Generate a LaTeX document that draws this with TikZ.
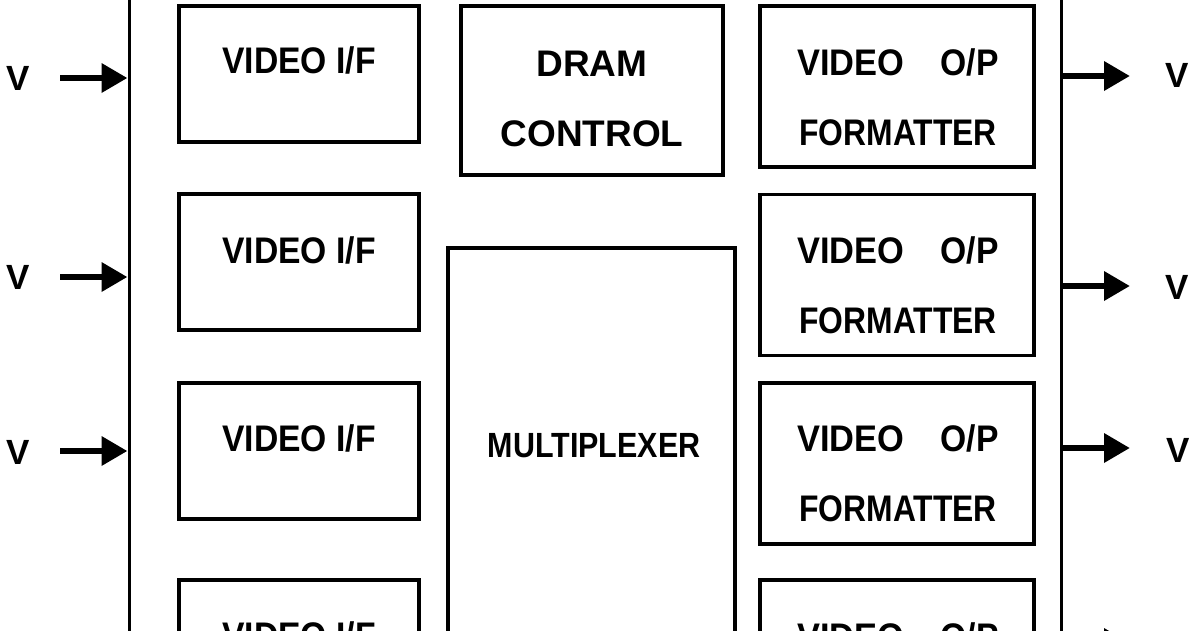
\documentclass[tikz,border=0pt]{standalone}
\usepackage{fontspec}
\usepackage{graphicx}
\setmainfont{Liberation Sans}
\usetikzlibrary{arrows.meta}
\newcommand{\hs}[2]{\scalebox{#1}[1]{#2}}
\begin{document}
\begin{tikzpicture}[x=1pt,y=-1pt,
  blk/.style={draw, line width=3.5pt, inner sep=0pt},
  vifbox/.style={blk, minimum width=240pt, minimum height=136pt},
  vopbox/.style={blk, minimum width=274pt, minimum height=161pt},
  lbl/.style={inner sep=0pt, anchor=base, font=\bfseries\fontsize{37}{40}\selectfont},
  vlbl/.style={inner sep=0pt, anchor=center, font=\bfseries\fontsize{35}{40}\selectfont},
  sig/.style={line width=6.5pt, -{Triangle[length=26pt,width=28pt]}}
]
\useasboundingbox (0,0) rectangle (1200,630);
\clip (0,0) rectangle (1200,630);
\fill[white] (0,0) rectangle (1200,630);

% outer chip outline
\node[draw, line width=3pt, inner sep=0pt, minimum width=932pt, minimum height=800pt] (chip) at (595,350) {};

% video input interfaces
\node[vifbox] (vif1) at (299,74) {};
\node[vifbox] (vif2) at (299,262) {};
\node[vifbox] (vif3) at (299,451) {};
\node[vifbox] (vif4) at (299,648) {};
\node[lbl] (vif1t) at (299,73) {\hs{0.91}{VIDEO I/F}};
\node[lbl] (vif2t) at (299,263) {\hs{0.91}{VIDEO I/F}};
\node[lbl] (vif3t) at (299,451) {\hs{0.91}{VIDEO I/F}};
\node[lbl] (vif4t) at (299,648) {\hs{0.91}{VIDEO I/F}};

% DRAM control
\node[blk, minimum width=262pt, minimum height=169pt] (dram) at (592,90.5) {};
\node[lbl] (dramt1) at (592,76) {DRAM};
\node[lbl] (dramt2) at (592,146) {CONTROL};

% multiplexer
\node[blk, minimum width=287pt, minimum height=560pt] (mux) at (591.5,528) {};
\node[lbl, font=\bfseries\fontsize{35}{40}\selectfont] (muxt) at (594,457.5) {\hs{0.87}{MULTIPLEXER}};

% video output formatters
\node[vopbox] (vop1) at (897,86.5) {};
\node[vopbox] (vop2) at (897,275) {};
\node[vopbox] (vop3) at (897,463.5) {};
\node[vopbox] (vop4) at (897,660.5) {};
\node[lbl] (vop1a) at (898,75) {\hs{0.93}{VIDEO}\hspace{36pt}\hs{0.91}{O/P}};
\node[lbl] (vop1b) at (898,145) {\hs{0.86}{FORMATTER}};
\node[lbl] (vop2a) at (898,263) {\hs{0.93}{VIDEO}\hspace{36pt}\hs{0.91}{O/P}};
\node[lbl] (vop2b) at (898,333) {\hs{0.86}{FORMATTER}};
\node[lbl] (vop3a) at (898,451) {\hs{0.93}{VIDEO}\hspace{36pt}\hs{0.91}{O/P}};
\node[lbl] (vop3b) at (898,521) {\hs{0.86}{FORMATTER}};
\node[lbl] (vop4a) at (898,649) {\hs{0.93}{VIDEO}\hspace{36pt}\hs{0.91}{O/P}};

% inputs
\node[vlbl] (vin1) at (18,78) {V};
\node[vlbl] (vin2) at (18,277) {V};
\node[vlbl] (vin3) at (18,452) {V};
\coordinate (in1) at (60,78);
\coordinate (in2) at (60,277);
\coordinate (in3) at (60,451);
\draw[sig] (in1) -- (in1 -| chip.west);
\draw[sig] (in2) -- (in2 -| chip.west);
\draw[sig] (in3) -- (in3 -| chip.west);

% outputs
\node[vlbl] (vout1) at (1177,75) {V};
\node[vlbl] (vout2) at (1177,287) {V};
\node[vlbl] (vout3) at (1178,450) {V};
\coordinate (out1) at (1130,76);
\coordinate (out2) at (1130,286);
\coordinate (out3) at (1130,448);
\coordinate (out4) at (1130,643);
\draw[sig] (out1 -| chip.east) -- (out1);
\draw[sig] (out2 -| chip.east) -- (out2);
\draw[sig] (out3 -| chip.east) -- (out3);
\draw[sig] (out4 -| chip.east) -- (out4);
\end{tikzpicture}
\end{document}
